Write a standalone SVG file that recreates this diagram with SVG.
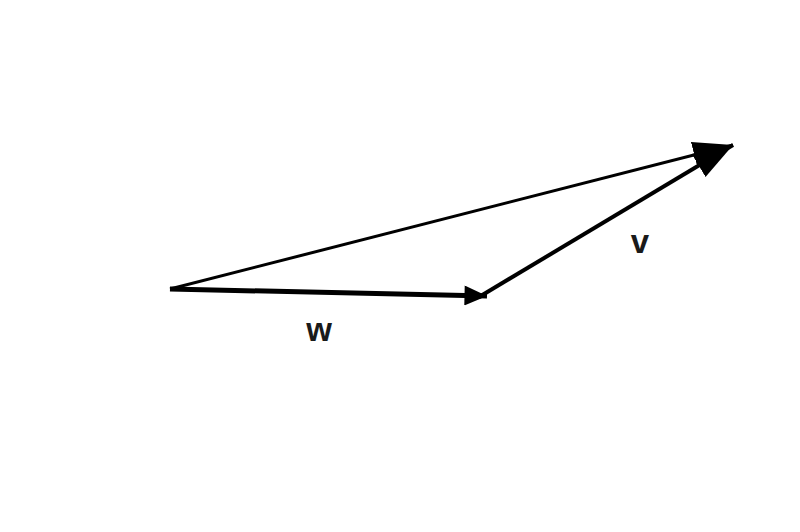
<svg xmlns="http://www.w3.org/2000/svg" width="800" height="532" viewBox="0 0 800 532">
<style>
.vec{stroke:#000;fill:none;stroke-linecap:butt}
.lbl{font-family:"Liberation Sans",Arial,sans-serif;font-weight:bold;font-size:33px;fill:#1a1a1a;text-anchor:middle}
</style>
<defs>
<marker id="ah" markerUnits="userSpaceOnUse" markerWidth="40" markerHeight="30" refX="30" refY="10" orient="auto" viewBox="0 0 30 20">
<path d="M0,0 L30,10 L0,20 Z" fill="#000"/>
</marker>
<marker id="ahs" markerUnits="userSpaceOnUse" markerWidth="24" markerHeight="20" refX="18" refY="8" orient="auto" viewBox="0 0 18 16">
<path d="M0,0 L18,8 L0,16 Z" fill="#000"/>
</marker>
</defs>
<rect width="800" height="532" fill="#fff"/>
<g id="connectors">
<path id="sum" class="vec" d="M170,289 L733,145" stroke-width="3" marker-end="url(#ah)"/>
<path id="w" class="vec" d="M170,289 L487,296" stroke-width="5" marker-end="url(#ahs)"/>
<path id="v" class="vec" d="M479,297 L733,145" stroke-width="4" marker-end="url(#ah)"/>
</g>
<g id="label-w"><text class="lbl" x="319" y="341">w</text></g>
<g id="label-v"><text class="lbl" x="640" y="253">v</text></g>
</svg>
